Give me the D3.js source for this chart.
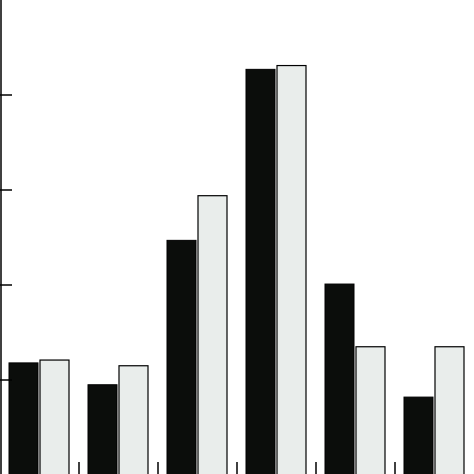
<!DOCTYPE html><html><head><script src="https://d3js.org/d3.v7.min.js"></script>
<style>body{margin:0;background:#fff}</style></head><body><svg id="c" width="474" height="474"></svg>
<script>
const categories=["A","B","C","D","E","F"];
const seriesDark=[1.18,0.95,2.47,4.27,2.01,0.82];
const seriesLight=[1.21,1.15,2.94,4.31,1.35,1.35];
const yTicks=[1,2,3,4];
const svg=d3.select("#c");
const x=d3.scaleBand().domain(categories).range([0,474]);
const y=d3.scaleLinear().domain([0,5]).range([475,0]);
const g=svg.append("g");
categories.forEach((c,i)=>{
  const x0=x(c);
  g.append("rect").attr("x",x0+9).attr("y",y(seriesDark[i])).attr("width",29).attr("height",y(0)-y(seriesDark[i]))
   .attr("fill","#0b0d0b").attr("stroke","#000");
  g.append("rect").attr("x",x0+40).attr("y",y(seriesLight[i])).attr("width",29).attr("height",y(0)-y(seriesLight[i]))
   .attr("fill","#e9edeb").attr("stroke","#000").attr("stroke-width",1.2);
});
svg.append("line").attr("x1",1).attr("x2",1).attr("y1",0).attr("y2",474).attr("stroke","#000").attr("stroke-width",1.5);
yTicks.forEach(t=>svg.append("line").attr("x1",0).attr("x2",12).attr("y1",y(t)).attr("y2",y(t)).attr("stroke","#000").attr("stroke-width",1.5));
categories.slice(1).forEach(c=>svg.append("line").attr("x1",x(c)).attr("x2",x(c)).attr("y1",462).attr("y2",474).attr("stroke","#000").attr("stroke-width",1.5));
</script></body></html>
